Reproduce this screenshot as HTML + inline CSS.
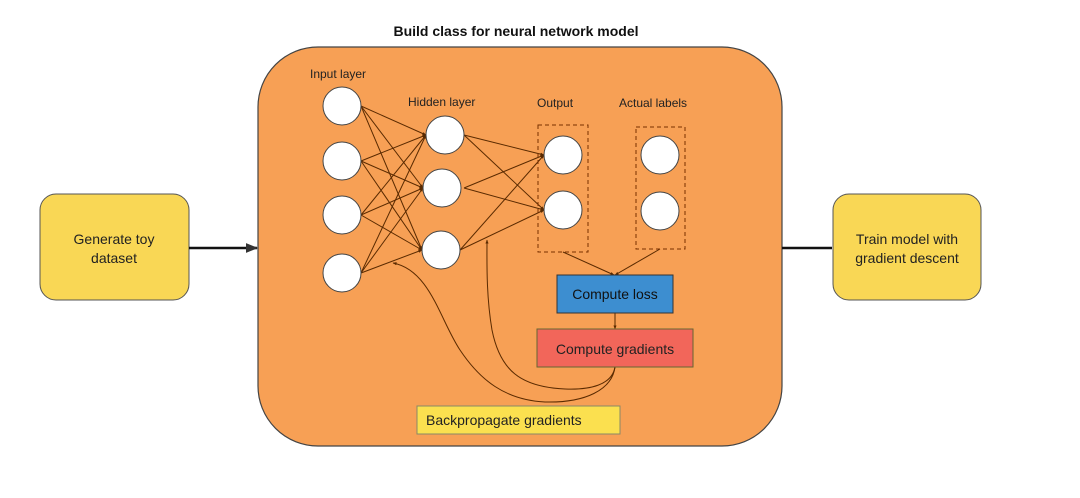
<!DOCTYPE html>
<html><head><style>body{margin:0;background:#fff}svg{display:block}</style></head>
<body>
<svg width="1080" height="498" viewBox="0 0 1080 498" xmlns="http://www.w3.org/2000/svg" font-family="Liberation Sans, Arial, sans-serif">
<defs>
<marker id="a" viewBox="0 0 10 10" refX="9" refY="5" markerWidth="5" markerHeight="5" orient="auto"><path d="M0,1 L10,5 L0,9 z" fill="#333"/></marker>
<marker id="b" viewBox="0 0 10 10" refX="9" refY="5" markerWidth="4" markerHeight="4" orient="auto"><path d="M0,1 L10,5 L0,9 z" fill="#5a2a00"/></marker>
</defs>
<text x="516" y="36" text-anchor="middle" font-size="14" font-weight="bold" fill="#111">Build class for neural network model</text>
<rect x="258" y="47" width="524" height="399" rx="60" fill="#f7a055" stroke="#444" stroke-width="1.2"/>
<rect x="40" y="194" width="149" height="106" rx="16" fill="#f9d755" stroke="#555"/>
<text x="114" y="244" text-anchor="middle" font-size="14" fill="#222">Generate toy</text>
<text x="114" y="263" text-anchor="middle" font-size="14" fill="#222">dataset</text>
<rect x="833" y="194" width="148" height="106" rx="16" fill="#f9d755" stroke="#555"/>
<text x="907" y="244" text-anchor="middle" font-size="14" fill="#222">Train model with</text>
<text x="907" y="263" text-anchor="middle" font-size="14" fill="#222">gradient descent</text>
<line x1="189" y1="248" x2="257" y2="248" stroke="#111" stroke-width="2.5" marker-end="url(#a)"/>
<line x1="782" y1="248" x2="832" y2="248" stroke="#111" stroke-width="2.5"/>
<g font-size="12" fill="#222">
<text x="310" y="78">Input layer</text>
<text x="408" y="106">Hidden layer</text>
<text x="537" y="107">Output</text>
<text x="619" y="107">Actual labels</text>
</g>
<g stroke="#5a2a00" stroke-width="1" marker-end="url(#b)">
<line x1="361" y1="106" x2="426" y2="135"/><line x1="361" y1="106" x2="423" y2="188"/><line x1="361" y1="106" x2="422" y2="250"/>
<line x1="361" y1="161" x2="426" y2="135"/><line x1="361" y1="161" x2="423" y2="188"/><line x1="361" y1="161" x2="422" y2="250"/>
<line x1="361" y1="215" x2="426" y2="135"/><line x1="361" y1="215" x2="423" y2="188"/><line x1="361" y1="215" x2="422" y2="250"/>
<line x1="361" y1="273" x2="426" y2="135"/><line x1="361" y1="273" x2="423" y2="188"/><line x1="361" y1="273" x2="422" y2="250"/>
<line x1="464" y1="135" x2="544" y2="155"/><line x1="464" y1="135" x2="544" y2="210"/>
<line x1="464" y1="188" x2="544" y2="155"/><line x1="464" y1="188" x2="544" y2="210"/>
<line x1="460" y1="250" x2="544" y2="155"/><line x1="460" y1="250" x2="544" y2="210"/>
<line x1="563" y1="252" x2="614" y2="275"/><line x1="660" y1="249" x2="615" y2="275"/>
<line x1="615" y1="313" x2="615" y2="329"/>
<path d="M615,367 C612,385 590,390 565,389 C520,387 500,370 492,330 C486,295 487,260 487,240" fill="none"/>
<path d="M615,367 C612,390 585,403 545,402 C505,400 480,380 460,350 C440,320 430,270 393,263" fill="none"/>
</g>
<g fill="#fff" stroke="#444" stroke-width="1">
<circle cx="342" cy="106" r="19"/><circle cx="342" cy="161" r="19"/><circle cx="342" cy="215" r="19"/><circle cx="342" cy="273" r="19"/>
<circle cx="445" cy="135" r="19"/><circle cx="442" cy="188" r="19"/><circle cx="441" cy="250" r="19"/>
<circle cx="563" cy="155" r="19"/><circle cx="563" cy="210" r="19"/>
<circle cx="660" cy="155" r="19"/><circle cx="660" cy="211" r="19"/>
</g>
<g fill="none" stroke="#7a3000" stroke-dasharray="4,3">
<rect x="538" y="125" width="50" height="127"/><rect x="636" y="127" width="49" height="122"/>
</g>
<rect x="557" y="275" width="116" height="38" fill="#3d8ed0" stroke="#333"/>
<text x="615" y="299" text-anchor="middle" font-size="14" fill="#111">Compute loss</text>
<rect x="537" y="329" width="156" height="38" fill="#f2665a" stroke="#663"/>
<text x="615" y="354" text-anchor="middle" font-size="14" fill="#222">Compute gradients</text>
<rect x="417" y="406" width="203" height="28" fill="#fbe04f" stroke="#886"/>
<text x="426" y="425" font-size="14" fill="#222">Backpropagate gradients</text>
</svg>
</body></html>
